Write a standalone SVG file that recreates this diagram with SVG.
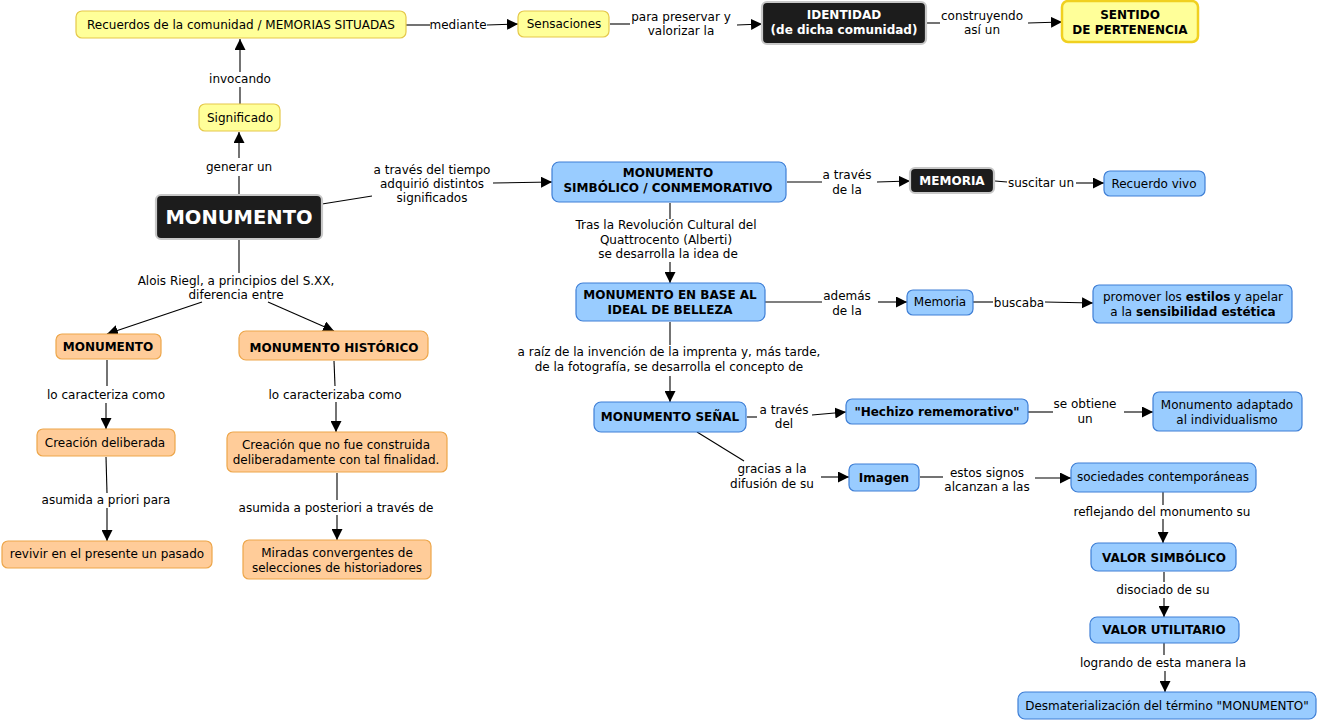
<svg xmlns="http://www.w3.org/2000/svg" width="1318" height="721" viewBox="0 0 1318 721">
<defs>
<marker id="ah" viewBox="0 0 10 10" refX="10" refY="5" markerWidth="11" markerHeight="11" markerUnits="userSpaceOnUse" orient="auto"><path d="M0,0 L10,5 L0,10 z" fill="#000"/></marker>
<style>
text{font-family:"DejaVu Sans","Liberation Sans",sans-serif;font-size:12px;fill:#000;text-anchor:middle}
.bd{font-weight:bold}
.w{fill:#fff;font-weight:bold}
.y{fill:#ffff99;stroke:#e5c84a;stroke-width:1.2}
.ys{fill:#ffff99;stroke:#f0d020;stroke-width:2.5}
.b{fill:#99ccff;stroke:#3f7fd6;stroke-width:1.2}
.o{fill:#ffcc99;stroke:#eda64a;stroke-width:1.2}
.k{fill:#1c1c1c;stroke:#c8c8c8;stroke-width:2.2}
#conn line{stroke:#000;stroke-width:1.1;fill:none}
#conn line.a{marker-end:url(#ah)}
</style>
</defs>
<rect width="1318" height="721" fill="#fff"/>

<g id="conn">
<line x1="406" y1="25" x2="430" y2="25"/><line class="a" x1="487" y1="25" x2="518" y2="24"/>
<line x1="610" y1="24" x2="630" y2="24"/><line class="a" x1="737" y1="25" x2="762" y2="24"/>
<line x1="927" y1="23" x2="940" y2="23"/><line class="a" x1="1028" y1="23" x2="1062" y2="22"/>
<line x1="240" y1="104" x2="240" y2="87"/><line class="a" x1="240" y1="72" x2="240" y2="39"/>
<line x1="239" y1="195" x2="239" y2="176"/><line class="a" x1="239" y1="158" x2="239" y2="132"/>
<line x1="322" y1="204" x2="372" y2="196"/><line class="a" x1="493" y1="183" x2="552" y2="182"/>
<line x1="239" y1="240" x2="239" y2="273"/><line class="a" x1="202" y1="302" x2="107" y2="334"/><line class="a" x1="268" y1="302" x2="334" y2="331"/>
<line x1="107" y1="360" x2="107" y2="386"/><line class="a" x1="106" y1="403" x2="106" y2="429"/>
<line x1="106" y1="457" x2="107" y2="493"/><line class="a" x1="107" y1="508" x2="107" y2="541"/>
<line x1="334" y1="361" x2="335" y2="386"/><line class="a" x1="336" y1="402" x2="336" y2="432"/>
<line x1="337" y1="473" x2="337" y2="500"/><line class="a" x1="337" y1="515" x2="337" y2="540"/>
<line x1="670" y1="203" x2="670" y2="219"/><line class="a" x1="670" y1="262" x2="670" y2="283"/>
<line x1="787" y1="182" x2="822" y2="182"/><line class="a" x1="877" y1="182" x2="910" y2="181"/>
<line x1="995" y1="181" x2="1007" y2="182"/><line class="a" x1="1076" y1="183" x2="1104" y2="183"/>
<line x1="765" y1="302" x2="822" y2="302"/><line class="a" x1="878" y1="302" x2="907" y2="302"/>
<line x1="973" y1="302" x2="993" y2="302"/><line class="a" x1="1045" y1="302" x2="1093" y2="303"/>
<line x1="670" y1="322" x2="670" y2="345"/><line class="a" x1="670" y1="376" x2="670" y2="402"/>
<line x1="747" y1="417" x2="757" y2="417"/><line class="a" x1="812" y1="415" x2="846" y2="412"/>
<line x1="1028" y1="412" x2="1053" y2="412"/><line class="a" x1="1124" y1="412" x2="1153" y2="412"/>
<line x1="697" y1="432" x2="744" y2="461"/><line class="a" x1="821" y1="477" x2="849" y2="477"/>
<line x1="920" y1="477" x2="943" y2="477"/><line class="a" x1="1035" y1="478" x2="1071" y2="478"/>
<line x1="1163" y1="492" x2="1163" y2="505"/><line class="a" x1="1163" y1="519" x2="1163" y2="543"/>
<line x1="1164" y1="572" x2="1164" y2="582"/><line class="a" x1="1164" y1="598" x2="1164" y2="617"/>
<line x1="1164" y1="643" x2="1164" y2="655"/><line class="a" x1="1165" y1="671" x2="1165" y2="692"/>
</g>

<g id="labels">
<text x="458" y="29">mediante</text>
<text x="681" y="21">para preservar y</text><text x="681" y="35">valorizar la</text>
<text x="982" y="20">construyendo</text><text x="982" y="34">así un</text>
<text x="240" y="83">invocando</text>
<text x="239" y="171">generar un</text>
<text x="432" y="174">a través del tiempo</text><text x="432" y="188">adquirió distintos</text><text x="432" y="202">significados</text>
<text x="236" y="285">Alois Riegl, a principios del S.XX,</text><text x="236" y="299">diferencia entre</text>
<text x="106" y="399">lo caracteriza como</text>
<text x="106" y="504">asumida a priori para</text>
<text x="335" y="399">lo caracterizaba como</text>
<text x="336" y="512">asumida a posteriori a través de</text>
<text x="666" y="229">Tras la Revolución Cultural del</text><text x="666" y="244">Quattrocento (Alberti)</text><text x="668" y="258">se desarrolla la idea de</text>
<text x="847" y="179">a través</text><text x="847" y="194">de la</text>
<text x="1041" y="187">suscitar un</text>
<text x="847" y="300">además</text><text x="847" y="315">de la</text>
<text x="1019" y="307">buscaba</text>
<text x="669" y="356">a raíz de la invención de la imprenta y, más tarde,</text><text x="669" y="371">de la fotografía, se desarrolla el concepto de</text>
<text x="784" y="414">a través</text><text x="784" y="428">del</text>
<text x="1085" y="408">se obtiene</text><text x="1085" y="423">un</text>
<text x="772" y="473">gracias a la</text><text x="772" y="488">difusión de su</text>
<text x="987" y="477">estos signos</text><text x="987" y="491">alcanzan a las</text>
<text x="1162" y="516">reflejando del monumento su</text>
<text x="1163" y="594">disociado de su</text>
<text x="1163" y="667">logrando de esta manera la</text>
</g>

<g id="n-recuerdos"><rect class="y" x="76" y="11" width="330" height="27" rx="6"/><text x="241" y="29">Recuerdos de la comunidad / MEMORIAS SITUADAS</text></g>
<g id="n-sensaciones"><rect class="y" x="518" y="11" width="91" height="26" rx="6"/><text x="564" y="28">Sensaciones</text></g>
<g id="n-identidad"><rect class="k" x="762" y="2" width="164" height="42" rx="5"/><text class="w" x="844" y="19">IDENTIDAD</text><text class="w" x="844" y="34">(de dicha comunidad)</text></g>
<g id="n-sentido"><rect class="ys" x="1062" y="1" width="136" height="41" rx="6"/><text class="bd" x="1130" y="19">SENTIDO</text><text class="bd" x="1130" y="34">DE PERTENENCIA</text></g>
<g id="n-significado"><rect class="y" x="199" y="104" width="81" height="27" rx="6"/><text x="240" y="122">Significado</text></g>
<g id="n-monumento"><rect class="k" x="156" y="195" width="166" height="44" rx="5"/><text class="w" x="239" y="224" style="font-size:19.5px">MONUMENTO</text></g>
<g id="n-simbolico"><rect class="b" x="552" y="162" width="234" height="40" rx="7"/><text class="bd" x="668" y="177">MONUMENTO</text><text class="bd" x="668" y="192">SIMBÓLICO / CONMEMORATIVO</text></g>
<g id="n-memoria"><rect class="k" x="910" y="168" width="84" height="25" rx="5"/><text class="w" x="952" y="185">MEMORIA</text></g>
<g id="n-recuerdovivo"><rect class="b" x="1104" y="171" width="101" height="25" rx="6"/><text x="1154" y="188">Recuerdo vivo</text></g>
<g id="n-belleza"><rect class="b" x="576" y="283" width="189" height="38" rx="7"/><text class="bd" x="670" y="299">MONUMENTO EN BASE AL</text><text class="bd" x="670" y="314">IDEAL DE BELLEZA</text></g>
<g id="n-memoria2"><rect class="b" x="907" y="290" width="66" height="25" rx="6"/><text x="940" y="306">Memoria</text></g>
<g id="n-promover"><rect class="b" x="1093" y="285" width="199" height="38" rx="6"/><text x="1193" y="301">promover los <tspan class="bd">estilos</tspan> y apelar</text><text x="1193" y="316">a la <tspan class="bd">sensibilidad estética</tspan></text></g>
<g id="n-senal"><rect class="b" x="594" y="402" width="152" height="30" rx="7"/><text class="bd" x="670" y="421">MONUMENTO SEÑAL</text></g>
<g id="n-hechizo"><rect class="b" x="846" y="399" width="182" height="25" rx="6"/><text class="bd" x="937" y="416">"Hechizo rememorativo"</text></g>
<g id="n-adaptado"><rect class="b" x="1153" y="392" width="149" height="39" rx="6"/><text x="1227" y="409">Monumento adaptado</text><text x="1227" y="424">al individualismo</text></g>
<g id="n-imagen"><rect class="b" x="849" y="464" width="70" height="27" rx="6"/><text class="bd" x="884" y="482">Imagen</text></g>
<g id="n-sociedades"><rect class="b" x="1071" y="463" width="185" height="29" rx="7"/><text x="1163" y="481">sociedades contemporáneas</text></g>
<g id="n-valorsimb"><rect class="b" x="1091" y="543" width="145" height="28" rx="7"/><text class="bd" x="1164" y="562">VALOR SIMBÓLICO</text></g>
<g id="n-valorutil"><rect class="b" x="1090" y="617" width="149" height="26" rx="7"/><text class="bd" x="1164" y="634">VALOR UTILITARIO</text></g>
<g id="n-desmat"><rect class="b" x="1018" y="692" width="298" height="27" rx="7"/><text x="1167" y="710">Desmaterialización del término "MONUMENTO"</text></g>
<g id="n-monumento-o"><rect class="o" x="56" y="334" width="105" height="25" rx="6"/><text class="bd" x="108" y="351">MONUMENTO</text></g>
<g id="n-historico"><rect class="o" x="239" y="331" width="189" height="29" rx="7"/><text class="bd" x="334" y="352">MONUMENTO HISTÓRICO</text></g>
<g id="n-deliberada"><rect class="o" x="37" y="429" width="138" height="27" rx="6"/><text x="105" y="447">Creación deliberada</text></g>
<g id="n-nodeliberada"><rect class="o" x="227" y="432" width="220" height="40" rx="6"/><text x="336" y="449">Creación que no fue construida</text><text x="336" y="464">deliberadamente con tal finalidad.</text></g>
<g id="n-revivir"><rect class="o" x="2" y="541" width="210" height="27" rx="6"/><text x="107" y="558">revivir en el presente un pasado</text></g>
<g id="n-miradas"><rect class="o" x="243" y="540" width="188" height="39" rx="6"/><text x="337" y="557">Miradas convergentes de</text><text x="337" y="572">selecciones de historiadores</text></g>
</svg>
